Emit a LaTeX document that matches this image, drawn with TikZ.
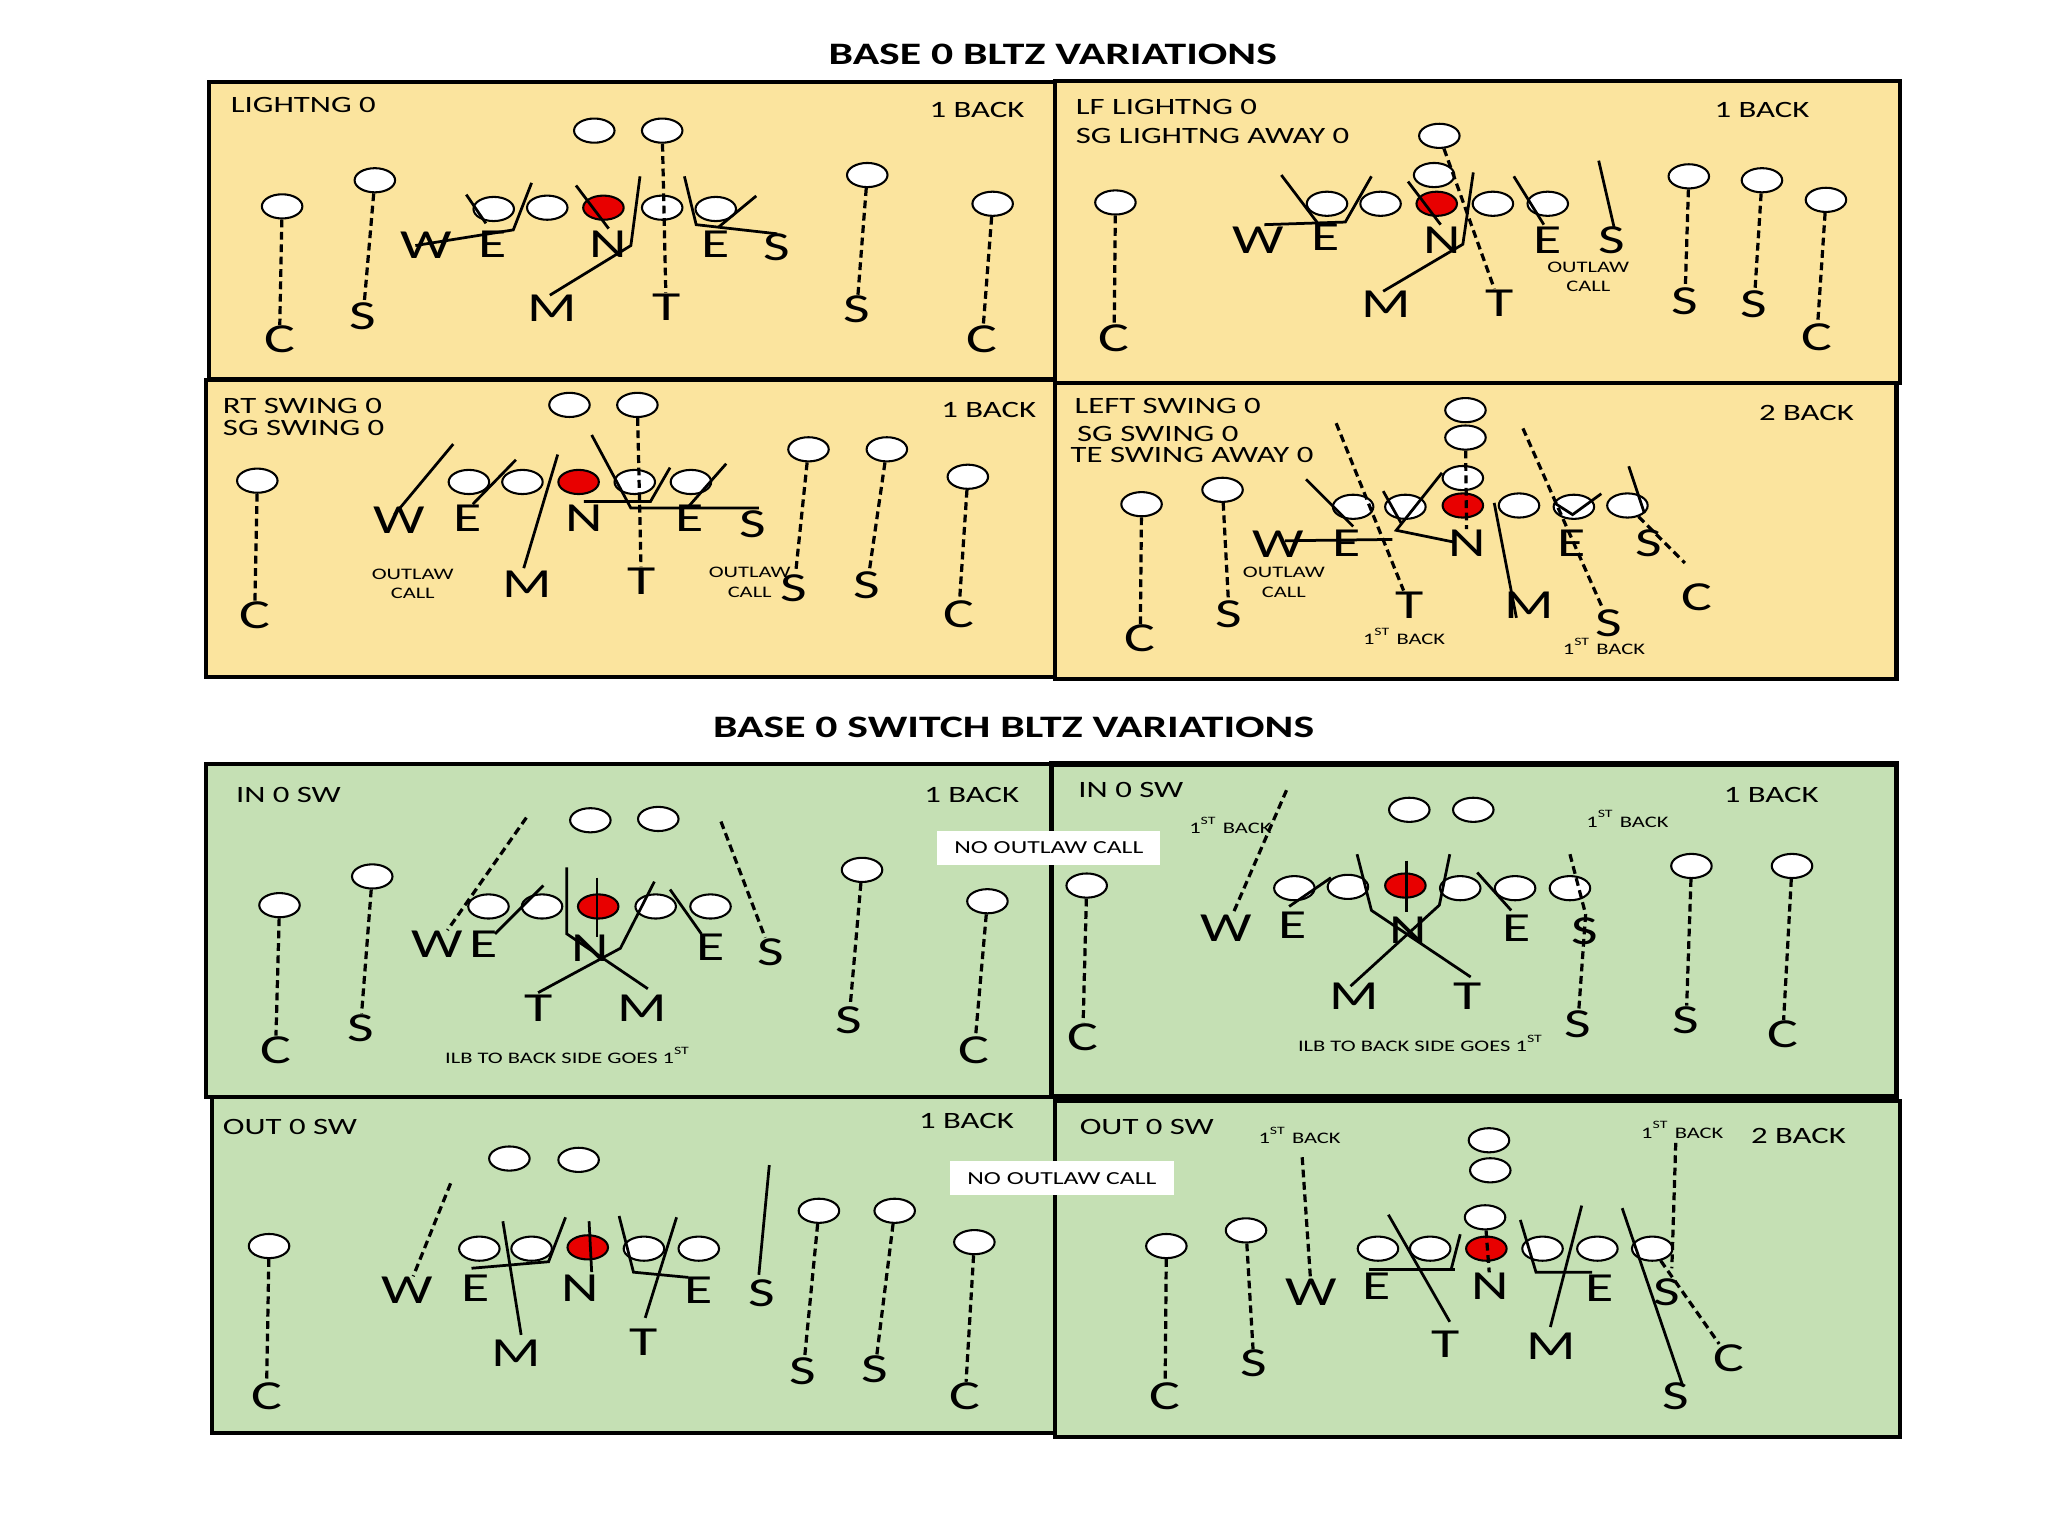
\documentclass[tikz,border=0pt]{standalone}
\usepackage{fontspec}
\setmainfont{Carlito}[FakeStretch=1.4]
\usetikzlibrary{shapes.geometric}
\definecolor{padyellow}{RGB}{251,228,158}
\definecolor{padgreen}{RGB}{197,224,180}
\definecolor{nosered}{RGB}{232,0,0}

\begin{document}
\begin{tikzpicture}[x=0.1mm,y=-0.1mm]

  \tikzset{yellowpanel/.style={draw, fill=padyellow, line width=0.9pt}, }
  \tikzset{greenpanel/.style={draw, fill=padgreen, line width=0.9pt}, }
  \tikzset{player/.style={ellipse, draw, fill=white, line width=0.45pt,
  		minimum width=3.1mm, minimum height=1.85mm, inner sep=0pt}, }
  \tikzset{nose/.style={player, fill=nosered}, }
  \tikzset{letter/.style={inner sep=0pt, font=\fontsize{9}{9}\selectfont}, }
  \tikzset{playtitle/.style={inner sep=0pt, font=\fontsize{5.1}{6}\selectfont}, }
  \tikzset{calltxt/.style={inner sep=0pt, align=center, font=\fontsize{3.5}{4.3}\selectfont}, }
  \tikzset{headtxt/.style={inner sep=0pt, font=\bfseries\fontsize{6.8}{8}\selectfont}, }
  \tikzset{nocall/.style={fill=white, minimum width=17.1mm, minimum height=2.6mm,
  		inner sep=0pt, font=\fontsize{4}{5}\selectfont}, }
  \tikzset{zone/.style={line width=0.7pt, dash pattern=on 1.7pt off 1pt}, }
  \tikzset{blitz/.style={line width=0.6pt}, }

  \fill[white] (0,0) rectangle (1568,1176);

  % headings
  \node[headtxt] (head1) at (806,42) {BASE 0 BLTZ VARIATIONS};
  \node[headtxt] (head2) at (776,557) {BASE 0 SWITCH BLTZ VARIATIONS};

  % panels
  \draw[yellowpanel] (160,63) rectangle (808,290);
  \draw[yellowpanel] (808,62) rectangle (1455,293);
  \draw[yellowpanel] (158,291) rectangle (808,518);
  \draw[yellowpanel] (808,293) rectangle (1452,520);
  \draw[greenpanel] (158,585) rectangle (805,840);
  \draw[greenpanel, line width=1.2pt] (805,585) rectangle (1452,840);
  \draw[greenpanel] (162,840) rectangle (808,1097);
  \draw[greenpanel] (808,843) rectangle (1455,1100);

  % panel titles
  \node[playtitle, anchor=west] (ta) at (176,80) {LIGHTNG 0};
  \node[playtitle, anchor=east] (ba) at (785,84) {1 BACK};
  \node[playtitle, anchor=west] (tb1) at (823,82) {LF LIGHTNG 0};
  \node[playtitle, anchor=west] (tb2) at (823,104) {SG LIGHTNG AWAY 0};
  \node[playtitle, anchor=east] (bb) at (1386,84) {1 BACK};
  \node[playtitle, anchor=west] (tc1) at (170,311) {RT SWING 0};
  \node[playtitle, anchor=west] (tc2) at (170,328) {SG SWING 0};
  \node[playtitle, anchor=east] (bc) at (794,314) {1 BACK};
  \node[playtitle, anchor=west] (td1) at (822,311) {LEFT SWING 0};
  \node[playtitle, anchor=west] (td2) at (824,332) {SG SWING 0};
  \node[playtitle, anchor=west] (td3) at (819,348) {TE SWING AWAY 0};
  \node[playtitle, anchor=east] (bd) at (1420,316) {2 BACK};
  \node[playtitle, anchor=west] (te) at (180,609) {IN 0 SW};
  \node[playtitle, anchor=east] (be) at (781,609) {1 BACK};
  \node[playtitle, anchor=west] (tf) at (825,605) {IN 0 SW};
  \node[playtitle, anchor=east] (bf) at (1393,609) {1 BACK};
  \node[playtitle, anchor=west] (tg) at (170,863) {OUT 0 SW};
  \node[playtitle, anchor=east] (bg) at (777,858) {1 BACK};
  \node[playtitle, anchor=west] (th) at (826,863) {OUT 0 SW};
  \node[playtitle, anchor=east] (bh) at (1414,870) {2 BACK};

  % notes
  \node[calltxt] (ca) at (1216,212) {OUTLAW\\CALL};
  \node[calltxt] (cc1) at (316,447) {OUTLAW\\CALL};
  \node[calltxt] (cc2) at (574,446) {OUTLAW\\CALL};
  \node[calltxt] (cd) at (983,446) {OUTLAW\\CALL};
  \node[calltxt] (fd1) at (1075,487) {1\textsuperscript{ST} BACK};
  \node[calltxt] (fd2) at (1228,495) {1\textsuperscript{ST} BACK};
  \node[calltxt] (ie) at (435,808) {ILB TO BACK SIDE GOES 1\textsuperscript{ST}};
  \node[calltxt] (ff1) at (942,632) {1\textsuperscript{ST} BACK};
  \node[calltxt] (ff2) at (1246,627) {1\textsuperscript{ST} BACK};
  \node[calltxt] (if) at (1088,799) {ILB TO BACK SIDE GOES 1\textsuperscript{ST}};
  \node[calltxt] (fh1) at (995,869) {1\textsuperscript{ST} BACK};
  \node[calltxt] (fh2) at (1288,865) {1\textsuperscript{ST} BACK};

  % players
  \foreach \n/\x/\y in {a1/455/100, a2/507/100, a3/216/158, a4/287/138, a5/378/160,
      a6/419/159, a8/507/159, a9/548/160, a10/664/134, a11/760/156,
      b1/1102/104, b2/1098/134, b3/854/155, b4/1016/156, b5/1057/156,
      b7/1143/156, b8/1185/156, b9/1293/135, b10/1349/138, b11/1398/153,
      c1/436/310, c2/488/310, c3/197/368, c4/359/369, c5/400/369,
      c7/486/369, c8/529/369, c9/619/344, c10/679/344, c11/741/365,
      d1/1122/314, d2/1122/335, d3/1120/366, d4/874/386, d5/936/375,
      d6/1036/388, d7/1076/388, d9/1163/387, d10/1205/388, d11/1246/387,
      e1/452/628, e2/504/627, e3/214/693, e4/285/671, e5/374/694,
      e6/415/694, e8/502/694, e9/544/694, e10/660/666, e11/756/690,
      f1/1079/620, f2/1128/620, f3/832/678, f4/991/680, f5/1032/679,
      f7/1118/680, f8/1160/680, f9/1202/680, f10/1295/663, f11/1372/663,
      g1/390/887, g2/443/888, g3/206/954, g4/367/956, g5/407/956,
      g7/493/956, g8/535/956, g9/627/927, g10/685/927, g11/746/951,
      h1/1140/873, h2/1141/896, h3/1137/932, h4/893/954, h5/954/942,
      h6/1055/956, h7/1095/956, h9/1181/956, h10/1223/956, h11/1265/956}
    \node[player] (\n) at (\x,\y) {};
  \foreach \n/\x/\y in {a7/462/159, b6/1100/156, c6/443/369, d8/1120/387,
      e7/458/694, f6/1076/678, g6/450/955, h8/1138/956}
    \node[nose] (\n) at (\x,\y) {};

  % defenders
  \foreach \n/\t/\x/\y in {aW/W/326/188, aE/E/377/187, aN/N/466/187, aF/E/548/187,
      aS/S/595/189, aM/M/423/236, aT/T/510/235, aS1/S/278/242, aC1/C/214/260,
      aS2/S/656/237, aC2/C/752/260,
      bW/W/963/184, bE/E/1015/182, bN/N/1104/184, bF/E/1185/184, bS/S/1234/184,
      bM/M/1061/233, bT/T/1148/232, bS1/S/1290/231, bS2/S/1343/233,
      bC1/C/853/259, bC2/C/1391/258,
      cW/W/306/398, cE/E/358/397, cN/N/447/397, cF/E/528/397, cS/S/576/401,
      cM/M/404/447, cT/T/491/445, cS1/S/608/450, cS2/S/664/448,
      cC1/C/195/471, cC2/C/734/470,
      dW/W/979/417, dE/E/1031/416, dN/N/1123/416, dF/E/1203/416, dS/S/1262/416,
      dC/C/1299/457, dT/T/1079/463, dM/M/1171/463, dS1/S/1232/477,
      dS2/S/941/470, dC1/C/873/489,
      eW/W/335/723, eE/E/370/723, eN/N/452/726, eF/E/544/725, eS/S/590/729,
      eT/T/412/772, eM/M/492/772, eS1/S/276/787, eC1/C/211/804,
      eS2/S/650/781, eC2/C/746/804,
      fW/W/939/711, fE/E/990/708, fN/N/1078/712, fF/E/1161/711, fS/S/1213/713,
      fM/M/1037/763, fT/T/1124/763, fS1/S/1208/784, fS2/S/1291/781,
      fC1/C/829/794, fC2/C/1365/792,
      gW/W/312/988, gE/E/364/986, gN/N/444/986, gF/E/535/988, gS/S/583/990,
      gM/M/395/1036, gT/T/493/1028, gS1/S/615/1050, gS2/S/670/1048,
      gC1/C/204/1069, gC2/C/739/1069,
      hW/W/1004/989, hE/E/1054/985, hN/N/1141/985, hF/E/1225/986, hS/S/1276/989,
      hT/T/1107/1029, hM/M/1188/1031, hC/C/1324/1040, hS1/S/1283/1069,
      hS2/S/960/1044, hC1/C/892/1069}
    \node[letter] (\n) at (\x,\y) {\t};

  % drops
  \foreach \x/\y in {a3/aC1, a4/aS1, a10/aS2, a11/aC2, a2/aT,
      b3/bC1, b9/bS1, b10/bS2, b11/bC2, b1/bT,
      c3/cC1, c2/cT, c9/cS1, c10/cS2, c11/cC2,
      d4/dC1, d5/dS2, d2/dN,
      e3/eC1, e4/eS1, e10/eS2, e11/eC2,
      f3/fC1, f10/fS2, f11/fC2,
      g3/gC1, g9/gS1, g10/gS2, g11/gC2,
      h4/hC1, h5/hS2, h3/hN}
    \draw[zone] (\x) -- (\y);
  \draw[zone] (1023,324) -- (dT);
  \draw[zone] (1166,328) -- (dS1);
  \draw[zone] (d11) -- (1290,431);
  \draw[zone] (403,626) -- (eW);
  \draw[zone] (552,629) -- (eS);
  \draw[zone] (985,605) -- (fW);
  \draw[zone] (1202,654) -- (1214,700) -- (fS1);
  \draw[zone] (345,906) -- (gW);
  \draw[zone] (997,886) -- (hW);
  \draw[zone] (1283,875) -- (1280,971);
  \draw[zone] (h11) -- (hC);

  % blitz paths
  \draw[blitz] (318,188) -- (393,176) -- (407,140);
  \draw[blitz] (357,149) -- (372,171);
  \draw[blitz] (441,142) -- (466,175);
  \draw[blitz] (421,226) -- (483,188) -- (490,135);
  \draw[blitz] (524,135) -- (533,172) -- (595,179);
  \draw[blitz] (579,150) -- (550,174);
  %
  \draw[blitz] (968,172) -- (1030,170) -- (1050,135);
  \draw[blitz] (981,134) -- (1009,171);
  \draw[blitz] (1078,139) -- (1103,172);
  \draw[blitz] (1059,223) -- (1120,187) -- (1128,132);
  \draw[blitz] (1159,135) -- (1182,172);
  \draw[blitz] (1224,123) -- (1236,175);
  %
  \draw[blitz] (347,340) -- (302,394);
  \draw[blitz] (395,352) -- (362,386);
  \draw[blitz] (427,348) -- (401,435);
  \draw[blitz] (453,333) -- (483,389) -- (581,389);
  \draw[blitz] (447,384) -- (498,384) -- (513,358);
  \draw[blitz] (556,355) -- (527,388);
  %
  \draw[blitz] (1000,367) -- (1036,403);
  \draw[blitz] (984,414) -- (1066,413);
  \draw[blitz] (1104,362) -- (1069,406) -- (1113,415);
  \draw[blitz] (1059,376) -- (1073,401);
  \draw[blitz] (1144,385) -- (1161,473);
  \draw[blitz] (1190,385) -- (1204,394) -- (1226,378);
  \draw[blitz] (1247,357) -- (1259,393);
  %
  \draw[blitz] (416,678) -- (379,715);
  \draw[blitz] (434,664) -- (434,715) -- (496,757);
  \draw[blitz] (457,672) -- (457,717);
  \draw[blitz] (412,760) -- (475,726) -- (501,675);
  \draw[blitz] (513,681) -- (537,715);
  %
  \draw[blitz] (1019,672) -- (987,694);
  \draw[blitz] (1039,654) -- (1050,697) -- (1126,748);
  \draw[blitz] (1110,654) -- (1102,693) -- (1034,755);
  \draw[blitz] (1077,659) -- (1077,698);
  \draw[blitz] (1131,668) -- (1157,697);
  %
  \draw[blitz] (385,935) -- (399,1022);
  \draw[blitz] (361,971) -- (420,966) -- (433,932);
  \draw[blitz] (451,935) -- (453,974);
  \draw[blitz] (474,931) -- (485,974) -- (527,978);
  \draw[blitz] (518,932) -- (494,1009);
  \draw[blitz] (589,892) -- (581,976);
  %
  \draw[blitz] (1063,930) -- (1110,1012);
  \draw[blitz] (1048,972) -- (1114,972);
  \draw[blitz] (1118,945) -- (1111,972);
  \draw[blitz] (1164,934) -- (1176,974) -- (1219,974);
  \draw[blitz] (1211,923) -- (1187,1016);
  \draw[blitz] (1242,925) -- (1288,1060);

  % call boxes
  \node[nocall] (noa) at (803,649) {NO OUTLAW CALL};
  \node[nocall] (nob) at (813,902) {NO OUTLAW CALL};

\end{tikzpicture}
\end{document}
